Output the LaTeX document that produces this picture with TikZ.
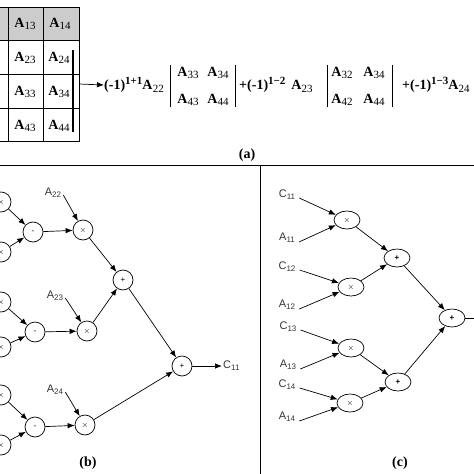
\documentclass[tikz,border=0pt]{standalone}
\usepackage{fontspec}
\setmainfont{Liberation Serif}
\setsansfont{Liberation Sans}
\usetikzlibrary{arrows.meta,shapes.geometric}
\newcommand\Asb[2]{#1\kern0.2pt\raisebox{-2.5pt}{\fontsize{11}{11}\selectfont\mdseries #2}}
\newcommand\Sps[1]{\raisebox{5.5pt}{\fontsize{11}{11}\selectfont #1}}
\newcommand\Lsb[2]{#1\raisebox{-2pt}{\fontsize{8}{8}\selectfont #2}}
\begin{document}
\begin{tikzpicture}[x=1pt,y=-1pt,
  arr/.style={-{Latex[length=7pt,width=5.5pt]}, line width=0.7pt},
  opc/.style={circle,draw,line width=0.7pt,minimum size=20pt,inner sep=0pt,font=\sffamily\footnotesize},
  ope/.style={ellipse,draw,line width=0.7pt,minimum width=26pt,minimum height=18pt,inner sep=0pt,font=\sffamily\footnotesize},
  lab/.style={font=\sffamily\fontsize{11}{11}\selectfont, inner sep=1pt, text=black!80},
  cell/.style={font=\bfseries\fontsize{14}{14}\selectfont, inner sep=0pt},
  fm/.style={font=\bfseries\fontsize{14}{14}\selectfont, inner sep=0pt},
  captxt/.style={font=\bfseries\fontsize{14}{14}\selectfont, inner sep=0pt},
  rulel/.style={line width=0.8pt}
]
\useasboundingbox (0,0) rectangle (474,474);
\clip (0,0) rectangle (474,474);

% ---------- (a) table ----------
\fill[black!20] (0,7) rectangle (79,40);
\draw[line width=0.7pt] (0,7) -- (79,7) -- (79,141) -- (0,141);
\foreach \yy in {40,74,108} \draw[line width=0.7pt] (0,\yy) -- (79,\yy);
\draw[line width=0.7pt] (8,7) -- (8,141);
\draw[line width=0.7pt] (43,7) -- (43,141);
\node[cell] (a13) at (25,24) {\Asb{A}{13}};
\node[cell] (a14) at (60,24) {\Asb{A}{14}};
\node[cell] (a23) at (25,58) {\Asb{A}{23}};
\node[cell] (a24) at (59,58) {\Asb{A}{24}};
\node[cell] (a33) at (25,92) {\Asb{A}{33}};
\node[cell] (a34) at (59,92) {\Asb{A}{34}};
\node[cell] (a43) at (25,126) {\Asb{A}{43}};
\node[cell] (a44) at (59,126) {\Asb{A}{44}};
\draw[line width=2.4pt] (73,50) -- (73,132);

% ---------- (a) formula ----------
\coordinate (tR) at (79,84);
\node[fm,anchor=west] (f1) at (104,85) {(-1)\Sps{1+1}\Asb{A}{22}};
\draw[arr] (tR) -- (f1.west);
\draw[line width=0.6pt] (170,65) -- (170,107);
\node[fm] (d33) at (188,73) {\Asb{A}{33}};
\node[fm] (d34) at (218,73) {\Asb{A}{34}};
\node[fm] (d43) at (188,100) {\Asb{A}{43}};
\node[fm] (d44) at (218,100) {\Asb{A}{44}};
\draw[line width=0.6pt] (235,65) -- (235,107);
\node[fm,anchor=west] (f2) at (239,85) {+(-1)\Sps{1−2}\hspace{6pt}\Asb{A}{23}};
\draw[line width=0.6pt] (327,65) -- (327,107);
\node[fm] (e32) at (342,73) {\Asb{A}{32}};
\node[fm] (e34) at (374,73) {\Asb{A}{34}};
\node[fm] (e42) at (342,100) {\Asb{A}{42}};
\node[fm] (e44) at (374,100) {\Asb{A}{44}};
\draw[line width=0.6pt] (392,65) -- (392,107);
\node[fm,anchor=west] (f3) at (402,85) {+(-1)\Sps{1−3}\Asb{A}{24}};
\node[captxt] (capa) at (247,155) {(a)};

% ---------- dividers ----------
\draw[rulel] (0,165) -- (474,165);
\draw[rulel] (260,165) -- (260,474);

% ---------- (b) ----------
\node[opc] (b1a) at (1,202) {$\times$};
\node[opc] (b1b) at (1,252) {$\times$};
\node[opc] (s1) at (33,232) {-};
\node[opc] (m1) at (83,230) {$\times$};
\node[lab] (lA22) at (53,193) {\Lsb{A}{22}};
\node[opc] (b2a) at (1,302) {$\times$};
\node[opc] (b2b) at (1,347) {$\times$};
\node[opc] (s2) at (35,332) {-};
\node[opc] (m2) at (87,331) {$\times$};
\node[lab] (lA23) at (55,296) {\Lsb{A}{23}};
\node[opc] (b3a) at (1,395) {$\times$};
\node[opc] (b3b) at (1,445) {$\times$};
\node[opc] (s3) at (35,427) {-};
\node[opc] (m3) at (85,425) {$\times$};
\node[lab] (lA24) at (55,390) {\Lsb{A}{24}};
\node[opc] (p1) at (123,280) {+};
\node[opc] (p2) at (182,366) {+};
\node[lab,anchor=west] (lC) at (222,366) {\Lsb{C}{11}};

\draw[arr] (b1a) -- (s1);
\draw[arr] (b1b) -- (s1);
\draw[arr] (s1) -- (m1);
\draw[arr] ([shift={(1pt,-2pt)}]lA22.east) -- (m1);
\draw[arr] (b2a) -- (s2);
\draw[arr] (b2b) -- (s2);
\draw[arr] (s2) -- (m2);
\draw[arr] ([shift={(1pt,-2pt)}]lA23.east) -- (m2);
\draw[arr] (b3a) -- (s3);
\draw[arr] (b3b) -- (s3);
\draw[arr] (s3) -- (m3);
\draw[arr] ([shift={(1pt,-2pt)}]lA24.east) -- (m3);
\draw[arr] (m1) -- (p1);
\draw[arr] (m2) -- (p1);
\draw[arr] (p1) -- (p2);
\draw[arr] (m3) -- (p2);
\draw[arr] (p2) -- (lC);
\node[captxt] (capb) at (88,463) {(b)};

% ---------- (c) ----------
\node[lab] (lC11) at (287,195) {\Lsb{C}{11}};
\node[lab] (lA11) at (287,238) {\Lsb{A}{11}};
\node[lab] (lC12) at (287,267) {\Lsb{C}{12}};
\node[lab] (lA12) at (287,305) {\Lsb{A}{12}};
\node[lab] (lC13) at (288,327) {\Lsb{C}{13}};
\node[lab] (lA13) at (288,365) {\Lsb{A}{13}};
\node[lab] (lC14) at (287,385) {\Lsb{C}{14}};
\node[lab] (lA14) at (287,417) {\Lsb{A}{14}};
\node[ope] (x1) at (347,220) {$\times$};
\node[ope] (x2) at (351,287) {$\times$};
\node[ope] (x3) at (351,348) {$\times$};
\node[ope] (x4) at (350,403) {$\times$};
\node[ope] (q1) at (397,258) {\textbf{+}};
\node[ope] (q2) at (398,382) {\textbf{+}};
\node[ope] (q3) at (452,318) {\textbf{+}};
\coordinate (cout) at (480,318);

\draw[arr] ([shift={(3pt,-3pt)}]lC11.east) -- (x1);
\draw[arr] ([shift={(3pt,-4pt)}]lA11.east) -- (x1);
\draw[arr] ([shift={(3pt,-3pt)}]lC12.east) -- (x2);
\draw[arr] ([shift={(3pt,-4pt)}]lA12.east) -- (x2);
\draw[arr] ([shift={(3pt,-3pt)}]lC13.east) -- (x3);
\draw[arr] ([shift={(3pt,-4pt)}]lA13.east) -- (x3);
\draw[arr] ([shift={(3pt,-3pt)}]lC14.east) -- (x4);
\draw[arr] ([shift={(3pt,-4pt)}]lA14.east) -- (x4);
\draw[arr] (x1) -- (q1);
\draw[arr] (x2) -- (q1);
\draw[arr] (x3) -- (q2);
\draw[arr] (x4) -- (q2);
\draw[arr] (q1) -- (q3);
\draw[arr] (q2) -- (q3);
\draw[line width=0.7pt] (q3) -- (cout);
\node[captxt] (capc) at (400,463) {(c)};
\end{tikzpicture}
\end{document}
